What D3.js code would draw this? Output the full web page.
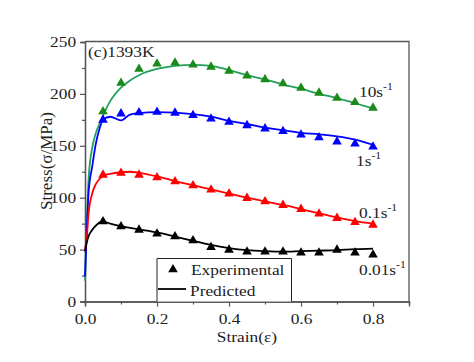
<!DOCTYPE html>
<html>
<head>
<meta charset="utf-8">
<script src="https://cdn.jsdelivr.net/npm/d3@7"></script>
<style>
  body { margin: 0; background: #fff; }
  text { font-family: "Liberation Serif", "Times New Roman", Times, serif; fill: #222; }
</style>
</head>
<body>
<svg id="chart" width="474" height="362"></svg>
<script>
// experimental strain points
const expStrain = [0.05, 0.1, 0.15, 0.2, 0.25, 0.3, 0.35, 0.4, 0.45, 0.5, 0.55, 0.6, 0.65, 0.7, 0.75, 0.8];
const exp10 = [183, 210.5, 224, 229, 230, 228, 226, 222, 217.5, 214, 210, 205.8, 201, 196, 192, 186.5];
const exp1 = [175, 181, 182, 182.6, 181.7, 179.4, 176, 173, 169.7, 166.5, 164, 160.7, 158, 154, 152, 149];
const exp01 = [122, 123.7, 122, 119.5, 115.6, 111.8, 107.6, 103.8, 99.6, 96.3, 92.8, 89, 84.5, 80.3, 76.4, 73.8];
const exp001 = [77, 72.2, 69, 65.2, 62.6, 58.7, 52.3, 49.7, 48, 48, 48, 47, 47, 49.7, 47, 45];

// predicted curves
const predStrain = [0, 0.005, 0.01, 0.02, 0.03, 0.04, 0.05, 0.07, 0.1, 0.125, 0.15, 0.2, 0.25, 0.3, 0.35, 0.4, 0.45, 0.5, 0.55, 0.6, 0.65, 0.7, 0.75, 0.8];
const pred10 = [20, 75, 118, 148, 162, 171, 179, 193, 206, 213, 218, 224, 227, 228, 227, 223, 218, 214, 209, 205, 200, 196, 191, 186];
const pred1 = [24, 70, 105, 130, 152, 166, 175, 178, 174.5, 180, 181.5, 182.5, 182, 180.5, 178, 174, 171, 167.5, 165, 162.5, 161, 159, 156, 151];
const pred01 = [50, 62, 85, 104, 113, 118, 121, 123, 124.5, 125, 124, 120.5, 116, 112, 108, 104, 100, 96.5, 93, 89, 85, 81, 77.5, 75];
const pred001 = [48, 57, 63, 69, 73, 76, 77, 75, 72.5, 71, 69.5, 66.5, 62.5, 58.5, 54.5, 51.5, 49.5, 48.5, 48, 48.5, 49, 49.5, 50.5, 51];

const rateLabels = ["10", "1", "0.1", "0.01"];
const xTicks = [0, 0.2, 0.4, 0.6, 0.8];
const yTicks = [0, 50, 100, 150, 200, 250];

const series = [
  { exp: exp10, pred: pred10, line: "#22a05c", mark: "#1a8a1a", label: rateLabels[0], lx: 359, ly: 97 },
  { exp: exp1, pred: pred1, line: "#0000ff", mark: "#0000ff", label: rateLabels[1], lx: 356, ly: 166 },
  { exp: exp01, pred: pred01, line: "#ff0000", mark: "#ff0000", label: rateLabels[2], lx: 359, ly: 218 },
  { exp: exp001, pred: pred001, line: "#000000", mark: "#000000", label: rateLabels[3], lx: 359, ly: 275 }
];

const svg = d3.select("#chart");
const m = { left: 85, right: 409, top: 41.5, bottom: 301.5 };
const fs = 15.5, stretch = "scale(1.12,1)";
const serif = "'Liberation Serif', 'Times New Roman', Times, serif";

const x = d3.scaleLinear().domain([0, 0.9]).range([m.left, m.right]);
const y = d3.scaleLinear().domain([0, 250]).range([m.bottom, m.top + 0.5]);

const axisColor = "#555";

// stretched text helper (reference type is a bit wide)
function label(parent, px, py, str) {
  return parent.append("text")
    .attr("transform", `translate(${px},${py}) ${stretch}`)
    .attr("font-family", serif)
    .attr("font-size", fs)
    .text(str);
}

// frame top + right
svg.append("path")
  .attr("d", `M${m.left},${m.top}H${m.right}V${m.bottom}`)
  .attr("fill", "none").attr("stroke", axisColor).attr("stroke-width", 1.3);

// x axis
const gx = svg.append("g").attr("transform", `translate(0,${m.bottom})`);
gx.call(d3.axisBottom(x).tickValues(d3.range(0.1, 0.95, 0.2)).tickSize(3).tickFormat(""));
gx.append("g").call(d3.axisBottom(x).tickValues(xTicks).tickSize(5).tickPadding(6).tickFormat(d3.format(".1f")));

// y axis
const gy = svg.append("g").attr("transform", `translate(${m.left},0)`);
gy.call(d3.axisLeft(y).tickValues(d3.range(25, 250, 50)).tickSize(3).tickFormat(""));
gy.append("g").call(d3.axisLeft(y).tickValues(yTicks).tickSize(5).tickPadding(3));

[gx, gy].forEach(g => {
  g.attr("font-family", serif);
  g.selectAll("g").attr("font-family", serif);
  g.selectAll(".domain").attr("stroke", axisColor).attr("stroke-width", 1.3);
  g.selectAll("line").attr("stroke", axisColor).attr("stroke-width", 1.2);
  g.selectAll("text").attr("font-size", fs).attr("fill", "#222")
    .attr("font-family", serif).attr("transform", stretch);
});

// axis titles
label(svg, 247, 342, "Strain(ε)").attr("text-anchor", "middle");
svg.append("text")
  .attr("transform", "translate(52,161) rotate(-90)")
  .attr("text-anchor", "middle").attr("font-size", 17)
  .attr("font-family", serif)
  .text("Stress(σ/MPa)");

label(svg, 88, 57, "(c)1393K");

const line = d3.line()
  .x((d, i) => x(predStrain[i]))
  .y(d => y(d))
  .curve(d3.curveMonotoneX);

const tri = d3.symbol().type(d3.symbolTriangle).size(40);

series.forEach(s => {
  svg.append("path")
    .attr("d", line(s.pred))
    .attr("fill", "none")
    .attr("stroke", s.line)
    .attr("stroke-width", 1.8);

  svg.append("g").selectAll("path")
    .data(s.exp)
    .join("path")
    .attr("d", tri)
    .attr("transform", (d, i) => `translate(${x(expStrain[i])},${y(d)})`)
    .attr("fill", s.mark);

  const t = label(svg, s.lx, s.ly, null);
  t.append("tspan").text(s.label + "s");
  t.append("tspan").attr("dy", -7).attr("font-size", 10.5).text("-1");
});

// legend
const lg = svg.append("g");
lg.append("path")
  .attr("d", `M157,${m.bottom}V258.5H291.5V${m.bottom}`)
  .attr("fill", "#fff").attr("stroke", "#222").attr("stroke-width", 1);
lg.append("path").attr("d", tri).attr("transform", "translate(173,269.5)").attr("fill", "#000");
label(lg, 191, 275, "Experimental");
lg.append("line").attr("x1", 158).attr("x2", 186).attr("y1", 289).attr("y2", 289)
  .attr("stroke", "#000").attr("stroke-width", 1.8);
label(lg, 190, 296, "Predicted");
</script>
</body>
</html>
